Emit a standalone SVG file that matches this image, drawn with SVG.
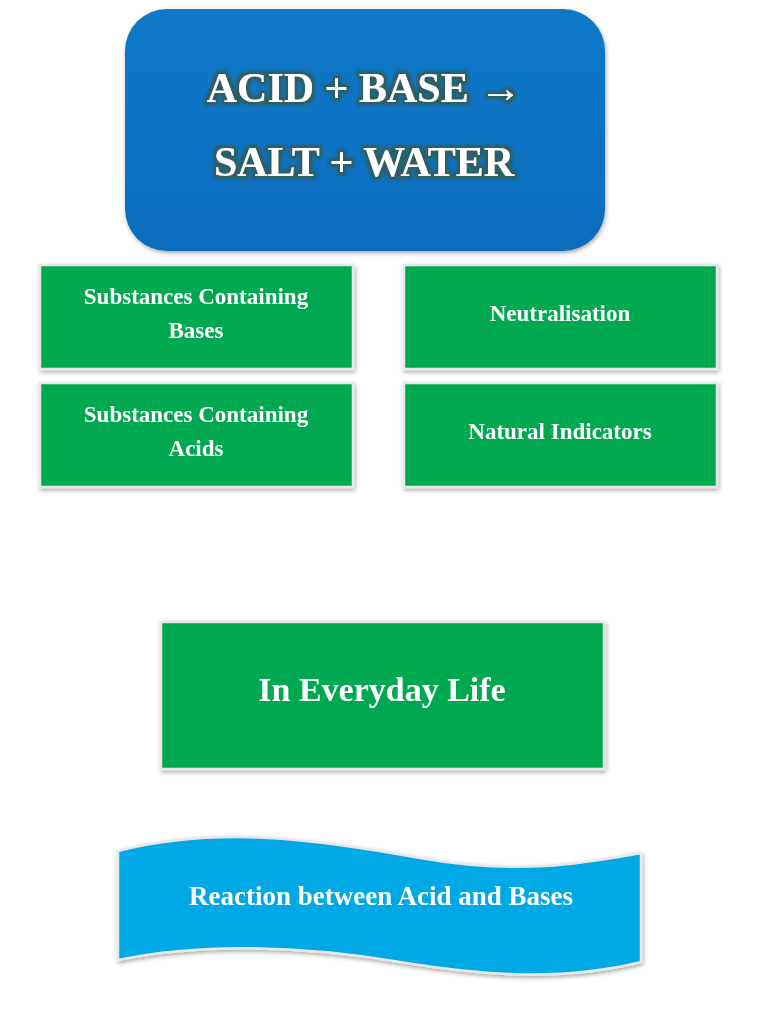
<svg xmlns="http://www.w3.org/2000/svg" width="768" height="1024" viewBox="0 0 768 1024">
<style>
.g{fill:#00a94f;stroke:#e8e8e8;stroke-width:2.5}
.t{font-family:"Liberation Serif",serif;font-weight:bold;fill:#fff;text-anchor:middle}
.s{font-size:23px}
</style>
<defs>
<filter id="sh" x="-10%" y="-10%" width="120%" height="130%"><feDropShadow dx="1" dy="2" stdDeviation="2" flood-color="#000" flood-opacity="0.35"/></filter>
<filter id="gl" x="-10%" y="-20%" width="120%" height="140%"><feMorphology in="SourceAlpha" operator="dilate" radius="2.5" result="d"/><feGaussianBlur in="d" stdDeviation="1.5" result="b"/><feFlood flood-color="#2b5e62"/><feComposite in2="b" operator="in" result="c"/><feMerge><feMergeNode in="c"/><feMergeNode in="SourceGraphic"/></feMerge></filter>
<linearGradient id="bl" x1="0" y1="0" x2="0" y2="1"><stop offset="0" stop-color="#1079c8"/><stop offset="1" stop-color="#0a6cbc"/></linearGradient>
</defs>
<rect width="768" height="1024" fill="#fff"/>
<g id="title" filter="url(#sh)">
<rect x="125" y="9" width="480" height="242" rx="42" fill="url(#bl)"/>
<g filter="url(#gl)">
<text class="t" x="364" y="102" font-size="42">ACID + BASE →</text>
<text class="t" x="364" y="176" font-size="42">SALT + WATER</text>
</g>
</g>
<g id="bases" filter="url(#sh)"><rect class="g" x="40" y="265" width="313" height="104"/><text class="t s" x="196" y="304">Substances Containing</text><text class="t s" x="196" y="338">Bases</text></g>
<g id="neutral" filter="url(#sh)"><rect class="g" x="404" y="265" width="313" height="104"/><text class="t s" x="560" y="321">Neutralisation</text></g>
<g id="acids" filter="url(#sh)"><rect class="g" x="40" y="383" width="313" height="104"/><text class="t s" x="196" y="422">Substances Containing</text><text class="t s" x="196" y="456">Acids</text></g>
<g id="indicators" filter="url(#sh)"><rect class="g" x="404" y="383" width="313" height="104"/><text class="t s" x="560" y="439">Natural Indicators</text></g>
<g id="everyday" filter="url(#sh)"><rect class="g" x="161" y="622" width="443" height="147"/><text class="t" x="382" y="701" font-size="34">In Everyday Life</text></g>
<g id="reaction" filter="url(#sh)">
<path d="M118,851 C220,825 320,840 420,858 C520,876 590,862 641,853 L641,962 C560,982 480,975 400,962 C300,945 200,943 118,960 Z" fill="#00a8e6" stroke="#e8e8e8" stroke-width="2.5"/>
<text class="t" x="381" y="905" font-size="27">Reaction between Acid and Bases</text>
</g>
<g id="connectors"/>
</svg>
